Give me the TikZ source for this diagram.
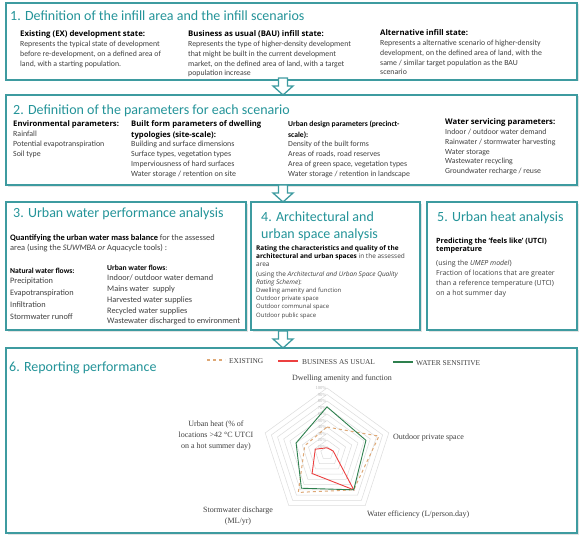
\documentclass[tikz,border=0pt]{standalone}
\usepackage{fontspec}
\setmainfont{Carlito}
\newfontfamily\chartfont{Liberation Serif}
\newfontfamily\segfont{Open Sans}
\usetikzlibrary{shadows,calc}
\definecolor{teal1}{RGB}{62,155,160}
\definecolor{titlec}{RGB}{36,148,153}
\definecolor{bodyc}{RGB}{64,64,64}
\definecolor{exc}{RGB}{222,168,118}
\definecolor{bauc}{RGB}{236,64,64}
\definecolor{wsc}{RGB}{46,128,78}
\definecolor{gridc}{RGB}{220,220,220}
\definecolor{pctc}{RGB}{185,185,185}
\begin{document}
\begin{tikzpicture}[x=1pt,y=-1pt,
 panel/.style={draw=teal1, line width=1.3pt, fill=white, drop shadow={shadow xshift=1.5pt,shadow yshift=-1.5pt,fill=black!22}, anchor=north west, inner sep=0pt, outer sep=0pt},
 ttl/.style={anchor=base west, inner sep=0pt, text=titlec, font=\fontsize{14}{17}\selectfont},
 txt/.style={anchor=north west, inner sep=0pt, align=left, text=bodyc, font=\fontsize{7.8}{9.7}\selectfont},
 hd/.style={anchor=base west, inner sep=0pt, text=black, font=\segfont\fontsize{7.8}{9.7}\selectfont\bfseries},
 hdc/.style={anchor=base west, inner sep=0pt, text=black, font=\fontsize{7.6}{9.7}\selectfont\bfseries},
 stxt/.style={anchor=north west, inner sep=0pt, align=left, text=bodyc},
 chtxt/.style={inner sep=0pt, align=center, text=bodyc, font=\chartfont\fontsize{8}{11}\selectfont},
 pct/.style={anchor=east, inner sep=0pt, text=pctc, font=\chartfont\fontsize{4.6}{5}\selectfont},
 hollowarrow/.pic={\draw[draw=teal1,line width=1.3pt,fill=white,line join=miter] (-4.5,0) -- (4.5,0) -- (4.5,8) -- (10,8) -- (0,17) -- (-10,8) -- (-4.5,8) -- cycle;},
]
\useasboundingbox (0,0) rectangle (583,540);

% panels
\node[panel, minimum width=571pt, minimum height=77pt] (p1) at (6,3) {};
\node[panel, minimum width=571pt, minimum height=90pt] (p2) at (6,95) {};
\node[panel, minimum width=240pt, minimum height=128pt] (p3) at (6,202) {};
\node[panel, minimum width=169pt, minimum height=128pt] (p4) at (251,202) {};
\node[panel, minimum width=150pt, minimum height=128pt] (p5) at (427,202) {};
\node[panel, minimum width=571pt, minimum height=185pt] (p6) at (6,348) {};

% arrows
\pic at (283,78) {hollowarrow};
\pic at (283,185) {hollowarrow};
\pic at (283,331) {hollowarrow};

% panel 1
\node[ttl] (t1) at (10,21) {1. Definition of the infill area and the infill scenarios};
\node[hd] (h11) at (20,37) {Existing (EX) development state:};
\node[txt] (b11) at (20,41) {Represents the typical state of development\\before re-development, on a defined area of\\land, with a starting population.};
\node[hd] (h12) at (188,37) {Business as usual (BAU) infill state:};
\node[txt] (b12) at (188,41) {Represents the type of higher-density development\\that might be built in the current development\\market, on the defined area of land, with a target\\population increase};
\node[hd] (h13) at (380,36) {Alternative infill state:};
\node[txt] (b13) at (380,40) {Represents a alternative scenario of higher-density\\development, on the defined area of land, with the\\same / similar target population as the BAU\\scenario};

% panel 2
\node[ttl] (t2) at (13,115) {2. Definition of the parameters for each scenario};
\node[hd, font=\segfont\fontsize{7.7}{9.7}\selectfont\bfseries] (h21) at (13,127) {Environmental parameters:};
\node[txt, font=\fontsize{7.9}{9.8}\selectfont] (b21) at (13,131) {Rainfall\\Potential evapotranspiration\\Soil type};
\node[hd, font=\segfont\fontsize{7.7}{9.7}\selectfont\bfseries] (h22a) at (131,127) {Built form parameters of dwelling};
\node[hd, font=\segfont\fontsize{7.7}{9.7}\selectfont\bfseries] (h22b) at (131,138) {typologies (site-scale):};
\node[txt, font=\fontsize{7.9}{9.8}\selectfont] (b22) at (131,141) {Building and surface dimensions\\Surface types, vegetation types\\Imperviousness of hard surfaces\\Water storage / retention on site};
\node[hd, font=\fontsize{7.6}{9.7}\selectfont\bfseries] (h23a) at (288,127) {Urban design parameters (precinct-};
\node[hd, font=\fontsize{7.6}{9.7}\selectfont\bfseries] (h23b) at (288,138) {scale):};
\node[txt, font=\fontsize{7.8}{9.8}\selectfont] (b23) at (288,141) {Density of the built forms\\Areas of roads, road reserves\\Area of green space, vegetation types\\Water storage / retention in landscape};
\node[hd, font=\segfont\fontsize{7.8}{9.7}\selectfont\bfseries] (h24) at (445,125) {Water servicing parameters:};
\node[txt, font=\fontsize{7.8}{9.7}\selectfont] (b24) at (445,129) {Indoor / outdoor water demand\\Rainwater / stormwater harvesting\\Water storage\\Wastewater recycling\\Groundwater recharge / reuse};

% panel 3
\node[ttl] (t3) at (13,217) {3. Urban water performance analysis};
\node[txt, font=\fontsize{8.4}{10.2}\selectfont] (b31) at (10,234) {\textcolor{black}{\textbf{Quantifying the urban water mass balance}} for the assessed\\area (using the \textit{SUWMBA or} Aquacycle tools) :};
\node[hdc] (h32) at (10,273) {Natural water flows:};
\node[txt, font=\fontsize{8.3}{11.8}\selectfont] (b32) at (10,278) {Precipitation\\Evapotranspiration\\Infiltration\\Stormwater runoff};
\node[hdc] (h33) at (107,270) {Urban water flows\textmd{:}};
\node[txt, font=\fontsize{8.3}{10.7}\selectfont] (b33) at (107,275) {Indoor/ outdoor water demand\\Mains water\ \ supply\\Harvested water supplies\\Recycled water supplies\\Wastewater discharged to environment};

% panel 4
\node[ttl] (t4a) at (261,221) {4. Architectural and};
\node[ttl] (t4b) at (261,238) {urban space analysis};
\node[stxt, font=\segfont\fontsize{6.5}{8}\selectfont] (b41) at (256,245.3) {\textcolor{black}{\textbf{Rating the characteristics and quality of the}}\\\textcolor{black}{\textbf{architectural and urban spaces}} in the assessed\\area};
\node[stxt, font=\segfont\fontsize{6.5}{8}\selectfont] (b42) at (256,271) {(using the \textit{Architectural and Urban Space Quality}\\\textit{Rating Scheme}):};
\node[stxt, font=\segfont\fontsize{6.0}{8.3}\selectfont] (b43) at (256,287.5) {Dwelling amenity and function\\Outdoor private space\\Outdoor communal space\\Outdoor public space};

% panel 5
\node[ttl] (t5) at (437,221) {5. Urban heat analysis};
\node[stxt, text=black, font=\segfont\fontsize{7.2}{8.3}\selectfont\bfseries] (h51) at (436,237.8) {Predicting the ‘feels like’ (UTCI)\\temperature};
\node[stxt, font=\segfont\fontsize{7.0}{10}\selectfont] (b51) at (436,259.8) {(using the \textit{UMEP model})\\Fraction of locations that are greater\\than a reference temperature (UTCI)\\on a hot summer day};

% panel 6
\node[ttl] (t6) at (9,371) {6. Reporting performance};

% legend
\draw[exc, dashed, line width=1.1pt] (207,360) -- (225,360);
\node[chtxt, anchor=base west, font=\chartfont\fontsize{7.4}{9}\selectfont] (l1) at (229,363) {EXISTING};
\draw[bauc, line width=1.1pt] (278,361) -- (298,361);
\node[chtxt, anchor=base west, font=\chartfont\fontsize{7.4}{9}\selectfont] (l2) at (302,364) {BUSINESS AS USUAL};
\draw[wsc, line width=1.1pt] (393,362) -- (413,362);
\node[chtxt, anchor=base west, font=\chartfont\fontsize{7.4}{9}\selectfont] (l3) at (416,365) {WATER SENSITIVE};

% radar chart
\begin{scope}[shift={(327,453)}, yscale=-1]
 \foreach \k in {1,...,10}
  \draw[gridc, line width=0.5pt] (90:6.5*\k) -- (18:6.5*\k) -- (-54:6.5*\k) -- (-126:6.5*\k) -- (162:6.5*\k) -- cycle;
 \foreach \k in {1,...,10}
  \node[pct] (pc\k) at (-0.5,6.5*\k) {\k0\%};
 \draw[exc, dashed, line width=1pt] (90:0.65*40) -- (18:0.65*84) -- (-54:0.65*70) -- (-126:0.65*75) -- (162:0.65*36) -- cycle;
 \draw[bauc, line width=0.9pt, line join=miter] (90:0.65*8) -- (18:0.65*10) -- (-54:0.65*70) -- (-126:0.65*39) -- (162:0.65*19) -- cycle;
 \draw[wsc, line width=0.9pt, line join=miter] (90:0.65*71) -- (18:0.65*63) -- (-54:0.65*70) -- (-126:0.65*67) -- (162:0.65*50) -- cycle;
\end{scope}

\node[chtxt, anchor=base] (a1) at (342,380) {Dwelling amenity and function};
\node[chtxt, anchor=base west] (a2) at (393,439) {Outdoor private space};
\node[chtxt, anchor=base west] (a3) at (367,516) {Water efficiency (L/person.day)};
\node[chtxt, anchor=north] (a4) at (238,507) {Stormwater discharge\\(ML/yr)};
\node[chtxt, anchor=north] (a5) at (216,421) {Urban heat (\% of\\locations >42 °C UTCI\\on a hot summer day)};
\end{tikzpicture}
\end{document}
